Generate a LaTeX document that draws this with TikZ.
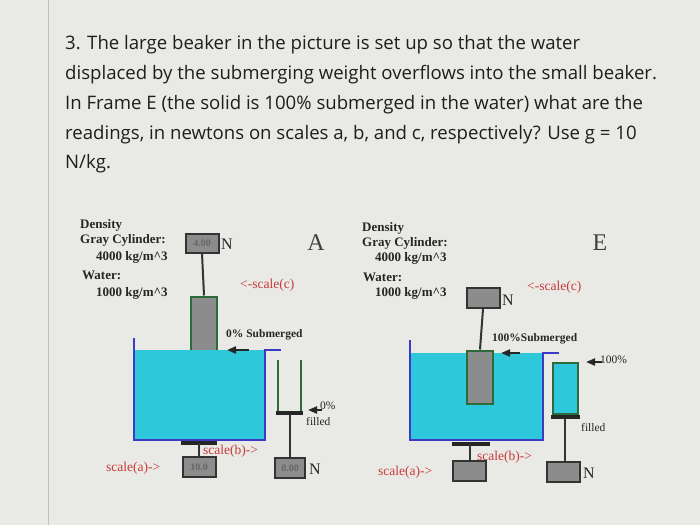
\documentclass[tikz,border=0pt]{standalone}
\usepackage{fontspec}
\setmainfont{Liberation Serif}
\newfontfamily\qfont{Open Sans}
\usetikzlibrary{arrows.meta}
\definecolor{bg}{HTML}{E9E9E5}
\definecolor{water}{HTML}{2EC8DA}
\definecolor{wall}{HTML}{3B3BC8}
\definecolor{cyl}{HTML}{2E6B3A}
\definecolor{grayf}{HTML}{8C8C8C}
\definecolor{lbl}{HTML}{C83A3A}
\definecolor{qtext}{HTML}{1E1E1E}
\tikzset{
 q/.style={anchor=west,inner sep=0,font=\qfont\fontsize{18.6}{21}\selectfont,text=qtext},
 t/.style={anchor=west,inner sep=0,font=\fontsize{13.5}{15}\selectfont,text=black!85},
 tb/.style={t,font=\bfseries\fontsize{13}{15}\selectfont},
 red/.style={t,text=lbl},
 disp/.style={draw=black!80,line width=2pt,fill=grayf,inner sep=0,font=\bfseries\fontsize{10}{11}\selectfont,text=black!60},
 cylbox/.style={draw=cyl,line width=2pt,fill=grayf},
 rod/.style={line width=2pt,black!80},
 plate/.style={line width=3.5pt,black!85},
 wallline/.style={line width=2.5pt,wall},
 smallwall/.style={line width=2.2pt,cyl},
 pt/.style={-{Triangle[length=9pt,width=7pt]},line width=2pt,black!85},
 big/.style={anchor=center,inner sep=0,font=\fontsize{24}{26}\selectfont,text=black!75}
}
\begin{document}
\begin{tikzpicture}[x=1pt,y=-1pt]
\useasboundingbox (0,0) rectangle (700,525);
\fill[bg] (0,0) rectangle (700,525);
\draw[black!25,line width=0.8pt] (48,0) -- (48,525);
% question
\node[q] (q1) at (65,45) {3. The large beaker in the picture is set up so that the water};
\node[q] (q2) at (65,75) {displaced by the submerging weight overflows into the small beaker.};
\node[q] (q3) at (65,105) {In Frame E (the solid is 100\% submerged in the water) what are the};
\node[q] (q4) at (65,135) {readings, in newtons on scales a, b, and c, respectively? Use g = 10};
\node[q] (q5) at (65,164) {N/kg.};
% ===== Frame A =====
\node[tb] (aden) at (80,225) {Density};
\node[tb] (agc) at (80,240) {Gray Cylinder:};
\node[tb] (ad1) at (96,257) {4000 kg/m\textasciicircum3};
\node[tb] (awat) at (82,275) {Water:};
\node[tb] (ad2) at (96,293) {1000 kg/m\textasciicircum3};
\node[big] (aA) at (316,243) {A};
\node[disp,minimum width=33pt,minimum height=19pt] (ac) at (202,243) {4.00};
\node[t,font=\fontsize{16}{17}\selectfont] (acN) at (221,244) {N};
\node[red] (asc) at (240,285) {<-scale(c)};
\node[cylbox,minimum width=26pt,minimum height=55pt,inner sep=0] (acyl) at (204,324) {};
\draw[rod] (ac.south) -- (acyl.north);
\fill[water] (134,350) rectangle (265,439);
\draw[wallline] (134,338) -- (134,440) -- (265,440) -- (265,350) -- (281,350);
\node[t,font=\bfseries\fontsize{11.5}{12}\selectfont] (asub) at (226,335) {0\% Submerged};
\coordinate (aar) at (249,350);
\coordinate (aat) at (227,350);
\draw[pt] (aar) -- (aat);
\node[disp,minimum width=33pt,minimum height=20pt] (asa) at (199,467) {10.0};
\coordinate (apl) at (199,443);
\draw[plate] (181,443) -- (217,443);
\draw[rod] (apl) -- (asa.north);
\node[red] (asca) at (106,468) {scale(a)->};
\node[red] (ascb) at (203,451) {scale(b)->};
\draw[smallwall] (278,360) -- (278,413);
\draw[smallwall] (301,360) -- (301,413);
\draw[plate] (276,413) -- (303,413);
\node[disp,minimum width=30pt,minimum height=20pt] (asb) at (290,468) {0.00};
\coordinate (asp) at (290,414);
\draw[rod] (asp) -- (asb.north);
\node[t,font=\fontsize{16}{17}\selectfont] (asbN) at (309,469) {N};
\coordinate (afa) at (322,410);
\coordinate (afb) at (308,410);
\draw[pt] (afa) -- (afb);
\node[t,font=\fontsize{11.5}{12}\selectfont] (af1) at (320,406) {0\%};
\node[t,font=\fontsize{11.5}{12}\selectfont] (af2) at (306,421) {filled};
% ===== Frame E =====
\node[tb] (eden) at (362,228) {Density};
\node[tb] (egc) at (362,243) {Gray Cylinder:};
\node[tb] (ed1) at (375,258) {4000 kg/m\textasciicircum3};
\node[tb] (ewat) at (363,277) {Water:};
\node[tb] (ed2) at (375,293) {1000 kg/m\textasciicircum3};
\node[big] (eE) at (600,243) {E};
\node[disp,minimum width=33pt,minimum height=20pt] (ec) at (483,298) {};
\node[t,font=\fontsize{16}{17}\selectfont] (ecN) at (502,300) {N};
\node[red] (esc) at (527,287) {<-scale(c)};
\fill[water] (410,353) rectangle (543,439);
\node[cylbox,minimum width=26pt,minimum height=53pt,inner sep=0] (ecyl) at (480,377) {};
\draw[rod] (ec.south) -- (ecyl.north);
\draw[wallline] (410,340) -- (410,440) -- (543,440) -- (543,353) -- (559,353);
\node[t,font=\bfseries\fontsize{11.5}{12}\selectfont] (esub) at (492,339) {100\%Submerged};
\coordinate (ear) at (520,353);
\coordinate (eat) at (501,353);
\draw[pt] (ear) -- (eat);
\draw[smallwall,fill=water] (553,363) rectangle (578,414);
\draw[plate] (551,417) -- (580,417);
\node[disp,minimum width=33pt,minimum height=20pt] (esb) at (563,472) {};
\coordinate (esp) at (565,418);
\draw[rod] (esp) -- (esp|-esb.north);
\node[t,font=\fontsize{16}{17}\selectfont] (esbN) at (583,473) {N};
\coordinate (efa) at (602,362);
\coordinate (efb) at (586,362);
\draw[pt] (efa) -- (efb);
\node[t,font=\fontsize{11.5}{12}\selectfont] (ef1) at (600,360) {100\%};
\node[t,font=\fontsize{11.5}{12}\selectfont] (ef2) at (581,427) {filled};
\node[disp,minimum width=33pt,minimum height=20pt] (esa) at (469,471) {};
\coordinate (epl) at (470,444);
\draw[plate] (452,444) -- (490,444);
\draw[rod] (epl) -- (epl|-esa.north);
\node[red] (easca) at (378,472) {scale(a)->};
\node[red] (eascb) at (477,457) {scale(b)->};
\end{tikzpicture}
\end{document}
